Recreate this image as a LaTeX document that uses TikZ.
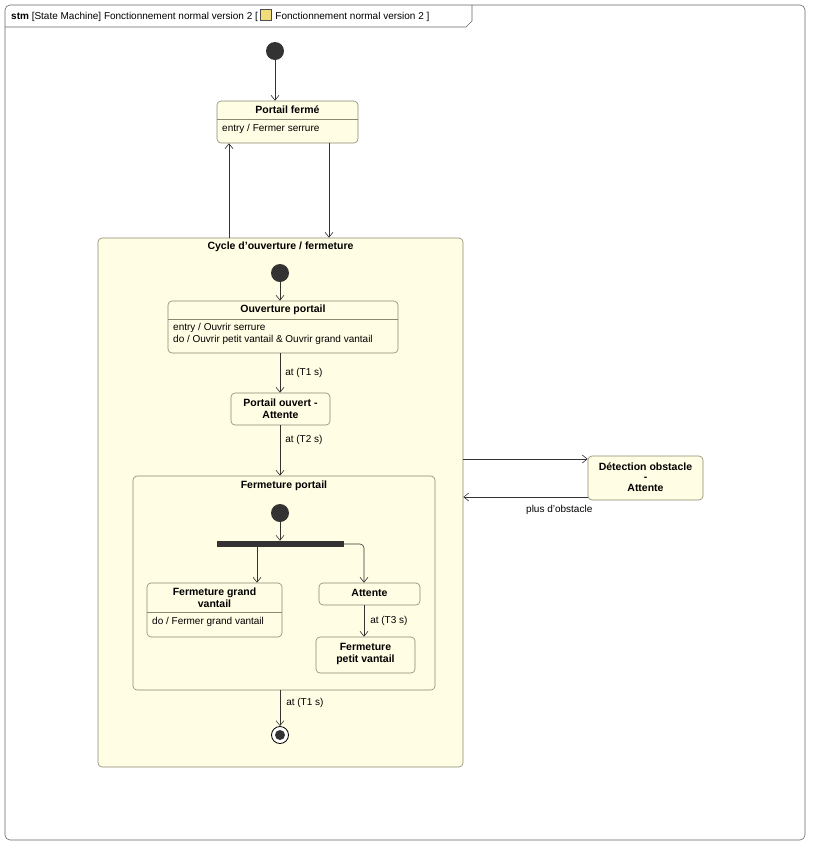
\documentclass[tikz,border=0pt]{standalone}
\usepackage{fontspec}
\setmainfont{Liberation Sans}
\usetikzlibrary{arrows.meta,positioning}
\definecolor{state fill color}{HTML}{FFFDE3}
\definecolor{state line color}{HTML}{8A8A70}
\definecolor{bar color}{HTML}{333333}
\tikzset{
    x={1pt},
    y={-1pt},
    state/.style 2 args={
        draw=state line color, fill=state fill color,
        rounded corners={4pt}, line width={0.6pt},
        minimum width={#1}, minimum height={#2},
        inner sep=0pt,
    },
    state title/.style={
        font={\fontsize{10.5}{12}\selectfont\bfseries},
        align=center, inner sep=1pt,
    },
    state body/.style={
        font={\fontsize{10}{12.5}\selectfont},
        align=left, inner sep=1pt, anchor=west,
    },
    guard/.style={
        font={\fontsize{10}{12}\selectfont},
        inner sep=1pt, anchor=west,
    },
    initial/.style={
        circle, fill=bar color, minimum size={18}, inner sep=0pt,
    },
    transition/.style={
        draw=black!80, line width={0.6pt},
        -{Straight Barb[length=5pt,width=8pt]},
    },
}
\begin{document}
\begin{tikzpicture}
\useasboundingbox (0,0) rectangle (820,855);
% frame
\draw[black!60, line width={0.6pt}, rounded corners={5pt}] (5,5) rectangle (805,840);
\draw[black!60, line width={0.6pt}] (5,27) -- (466,27) -- (472,21) -- (472,5);
\node[anchor=west, font={\fontsize{10}{12}\selectfont}, inner sep=0pt] (header) at (11,15)
    {\textbf{stm} [State Machine] Fonctionnement normal version 2 [\,\tikz[baseline=1pt]\draw[fill=yellow!60!brown!60, draw=black!70] (0,0) rectangle (11pt,11pt);\, Fonctionnement normal version 2 ]};
% top level
\node[initial] (init) at (275,51) {};
\node[state={141}{42}] (ferme) at (287.5,122) {};
\node[state title] at (287.5,110) {Portail fermé};
\draw[state line color] (217,119) -- (358,119);
\node[state body] at (221,129) {entry / Fermer serrure};
% composite cycle
\node[state={365}{529}] (cycle) at (280.5,502.5) {};
\node[state title] at (280.5,247) {Cycle d'ouverture / fermeture};
\node[initial] (init2) at (280,273) {};
\node[state={230}{52}] (ouverture) at (283,327) {};
\node[state title] at (283,310) {Ouverture portail};
\draw[state line color] (168,319) -- (398,319);
\node[state body] at (172,334) {entry / Ouvrir serrure\\do / Ouvrir petit vantail \& Ouvrir grand vantail};
\node[state={99}{32}] (ouvert) at (280.5,409) {};
\node[state title] at (280.5,409) {Portail ouvert -\\Attente};
% composite fermeture
\node[state={302}{214}] (fermeture) at (284,583) {};
\node[state title] at (284,486) {Fermeture portail};
\node[initial] (init3) at (280,513) {};
\node[fill=bar color, minimum width={127}, minimum height={6}, inner sep=0pt] (fork) at (280.5,544) {};
\node[state={135}{54}] (grand) at (214.5,610) {};
\node[state title] at (214.5,598) {Fermeture grand\\vantail};
\draw[state line color] (147,612) -- (282,612);
\node[state body] at (151,622) {do / Fermer grand vantail};
\node[state={101}{22}] (attente) at (369.5,594) {};
\node[state title] at (369.5,593) {Attente};
\node[state={99}{36}] (petit) at (365.5,655) {};
\node[state title] at (365.5,654) {Fermeture\\petit vantail};
\node[circle, draw=black, line width={0.8pt}, fill=white, minimum size={17}, inner sep=0pt] (final) at (280,735) {};
\fill[bar color] (final) circle (5);
% obstacle
\node[state={115}{44}] (obstacle) at (645.5,478) {};
\node[state title, font={\fontsize{10.5}{10.5}\selectfont\bfseries}] at (645.5,477) {Détection obstacle\\-\\Attente};
% transitions
\draw[transition] (init) -- (ferme.north-|init);
\draw[transition] (cycle.north-|229,0) -- (ferme.south-|229,0);
\draw[transition] (ferme.south-|329,0) -- (cycle.north-|329,0);
\draw[transition] (init2) -- (ouverture.north-|init2);
\draw[transition] (ouverture.south-|280,0) -- node[guard, right=4pt] {at (T1 s)} (ouvert.north-|280,0);
\draw[transition] (ouvert.south-|280,0) -- node[guard, right=4pt, yshift=11pt] {at (T2 s)} (fermeture.north-|280,0);
\draw[transition] (init3) -- (fork.north-|init3);
\draw[transition] (fork.south-|257,0) -- (grand.north-|257,0);
\draw[transition, rounded corners={4pt}] (fork.east) -- (364,544) -- (attente.north-|364,0);
\draw[transition] (attente.south-|364,0) -- node[guard, right=5pt] {at (T3 s)} (petit.north-|364,0);
\draw[transition] (fermeture.south-|280,0) -- node[guard, right=5pt, yshift=5pt] {at (T1 s)} (final);
\draw[transition] (cycle.east|-0,459) -- (obstacle.west|-0,459);
\draw[transition] (obstacle.west|-0,497) -- (cycle.east|-0,497);
\node[guard] at (525,510) {plus d'obstacle};
\end{tikzpicture}
\end{document}
